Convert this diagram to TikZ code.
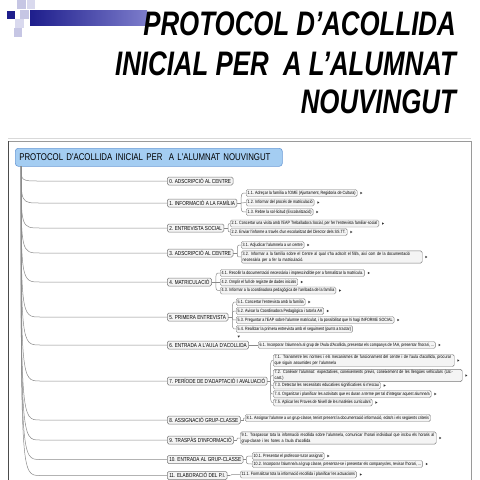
\documentclass[tikz,border=0pt]{standalone}
\usepackage{fontspec}
\setmainfont{Liberation Sans}
\newfontfamily\titlefont[FakeStretch=0.76]{Liberation Sans}
\newfontfamily\mapfont[FakeStretch=0.8]{Liberation Sans}
\usetikzlibrary{positioning}

\definecolor{hdark}{HTML}{1E1E8C}
\definecolor{hlight}{HTML}{7C7CCB}
\definecolor{sqa}{HTML}{C6C6E4}
\definecolor{sqb}{HTML}{D9D9EE}
\definecolor{rootfill}{HTML}{A4CDF2}
\definecolor{rootedge}{HTML}{6A9AD6}
\definecolor{boxedge}{HTML}{7A7A7A}
\definecolor{boxfill}{HTML}{F4F4F4}
\definecolor{linkgray}{HTML}{8A8A8A}
\definecolor{framegray}{HTML}{9A9A9A}

\newcommand{\leafmark}[1]{\fill[black!80] ([shift={(3,-1.2)}]#1.east) -- ++(2,1.2) -- ++(-2,1.2) -- cycle;}

\begin{document}
\begin{tikzpicture}[x=1pt,y=-1pt,
  title/.style={font=\titlefont\bfseries\itshape\fontsize{34}{34}\selectfont, inner sep=0pt, anchor=base east},
  rootbox/.style={draw=rootedge, fill=rootfill, line width=0.6pt, rounded corners=3pt, inner xsep=4pt, inner ysep=0pt, minimum height=18pt, text width=259pt, align=left, anchor=north west, font=\mapfont\fontsize{9.8}{9.8}\selectfont},
  sub/.style={draw=boxedge, fill=boxfill, line width=0.5pt, rounded corners=1.5pt, inner xsep=2pt, inner ysep=0pt, minimum height=8pt, anchor=west, font=\mapfont\fontsize{5.8}{5.8}\selectfont},
  leaf/.style={draw=boxedge, fill=boxfill, line width=0.4pt, rounded corners=1.5pt, inner xsep=1.5pt, inner ysep=1pt, minimum height=7pt, anchor=west, align=left, font=\mapfont\fontsize{4.6}{5.8}\selectfont},
  link/.style={draw=linkgray, line width=0.5pt}
]
\useasboundingbox (0,0) rectangle (480,480);

% header decoration
\shade[left color=hdark, right color=hlight] (30,10) rectangle (147,25);
\fill[sqa] (17,0) rectangle (26,9);
\fill[sqb] (27,0) rectangle (35,9);
\fill[sqa] (20,10) rectangle (29,19);
\fill[sqb] (15,19) rectangle (24,28);
\fill[sqa] (14,28) rectangle (22,37);
\fill[hdark] (7,11) rectangle (15,19);

% title
\node[title] (t1) at (456,35) {PROTOCOL D’ACOLLIDA};
\node[title] (t2) at (456,75) {INICIAL PER\ \ A L’ALUMNAT};
\node[title] (t3) at (456,113) {NOUVINGUT};

% screenshot frame
\draw[black!15] (8,138) -- (471,138);
\draw[framegray] (8,141) -- (471,141) -- (471,482);
\draw[black!70, line width=0.9pt] (8,141) -- (8,482);

% root
\node[rootbox] (root) at (15,148) {PROTOCOL D'ACOLLIDA INICIAL PER\ \ A L'ALUMNAT NOUVINGUT};
\coordinate (rt) at (21,166);
\coordinate (bend) at (40,166);

% main steps
\node[sub] (c0) at (167,181) {0. ADSCRIPCIÓ AL CENTRE};
\node[sub] (c1) at (167,203) {1. INFORMACIÓ A LA FAMÍLIA};
\node[sub] (c2) at (167,228) {2. ENTREVISTA SOCIAL};
\node[sub] (c3) at (167,253) {3. ADSCRIPCIÓ AL CENTRE};
\node[sub] (c4) at (167,282) {4. MATRICULACIÓ};
\node[sub] (c5) at (167,317) {5. PRIMERA ENTREVISTA};
\node[sub] (c6) at (167,345) {6. ENTRADA A L'AULA D'ACOLLIDA};
\node[sub] (c7) at (167,381) {7. PERÍODE DE D'ADAPTACIÓ I AVALUACIÓ};
\node[sub] (c8) at (167,420) {8. ASSIGNACIÓ GRUP-CLASSE};
\node[sub] (c9) at (167,440) {9. TRASPÀS D'INFORMACIÓ};
\node[sub] (c10) at (167,459.5) {10. ENTRADA AL GRUP-CLASSE};
\node[sub] (c11) at (167,475.5) {11. ELABORACIÓ DEL P.I.};

% tasks
\node[leaf] (g11) at (246,193) {1.1. Adreçar la família a l'OME (Ajuntament, Regidoria de Cultura)};
\node[leaf] (g12) at (246,202.5) {1.2. Informar del procés de matriculació};
\node[leaf] (g13) at (246,212) {1.3. Rebre la sol·licitud (Escolarització)};
\node[leaf] (g21) at (230,223.5) {2.1. Concertar una visita amb l'EAP Treballadora Social, per fer l'entrevista familiar-social};
\node[leaf] (g22) at (230,232) {2.2. Enviar l'informe a través d'un escolaritzat del Director dels SS.TT.};
\node[leaf] (g31) at (241,245) {3.1. Adjudicar l'alumne/a a un centre};
\node[leaf, text width=178pt] (g32) at (241,257) {3.2. Informar a la família sobre el Centre al qual s'ha adscrit el fill/a, així com de la documentació necessària per a fer la matriculació.};
\node[leaf] (g41) at (220,273) {4.1. Recollir la documentació necessària i imprescindible per a formalitzar la matrícula.};
\node[leaf] (g42) at (220,282) {4.2. Omplir el full de registre de dades inicials};
\node[leaf] (g43) at (220,290.5) {4.3. Informar a la coordinadora pedagògica de l'arribada de la família};
\node[leaf] (g51) at (236,302) {5.1. Concertar l'entrevista amb la família};
\node[leaf] (g52) at (236,311) {5.2. Avisar la Coordinadora Pedagògica i tutor/a AA};
\node[leaf] (g53) at (236,320) {5.3. Preguntar a l'EAP sobre l'alumne matriculat, i la possibilitat que hi hagi INFORME SOCIAL};
\node[leaf] (g54) at (236,329) {5.4. Realitzar la primera entrevista amb el seguiment (punts a tractar)};
\node[leaf] (g61) at (258,345) {6.1. Incorporar l'alumne/a al grup de l'Aula d'Acollida, presentar els companys de l'AA, presentar l'horari, ...};
\node[leaf, text width=178pt] (g71) at (273,360.5) {7.1. Transmetre les normes i els mecanismes de funcionament del centre i de l'aula d'acollida, procurar que siguin assumides per l'alumne/a};
\node[leaf, text width=186pt] (g72) at (273,375.5) {7.2. Conèixer l'alumnat: expectatives, coneixements previs, coneixement de les llengües vehiculars (cat.-cast.)};
\node[leaf] (g73) at (273,385.5) {7.3. Detectar les necessitats educatives significatives si n'escau};
\node[leaf] (g74) at (273,394) {7.4. Organitzar i planificar les activitats que es duran a terme per tal d'integrar aquest alumne/a};
\node[leaf] (g75) at (273,402.5) {7.5. Aplicar les Proves de Nivell de les matèries curriculars};
\node[leaf] (g81) at (245,418) {8.1. Assignar l'alumne a un grup-classe, tenint present la documentació informació, edat/s i els següents criteris};
\node[leaf, text width=193pt] (g91) at (240,438) {9.1. Traspassar tota la informació recollida sobre l'alumne/a, comunicar l'horari individual que inclou els horaris al grup-classe i les hores a l'aula d'acollida};
\node[leaf] (g101) at (252,456) {10.1. Presentar el professor-tutor assignat};
\node[leaf] (g102) at (252,464) {10.2. Incorporar l'alumne/a al grup classe, presentar-se i presentar els companys/es, revisar l'horari, ...};
\node[leaf] (g111) at (240,474.5) {11.1. Formalitzar tota la informació recollida i planificar les actuacions};

% root to steps
\draw[link] (rt) .. controls (rt |- c0) .. (bend |- c0) -- (c0);
\draw[link] (rt) .. controls (rt |- c1) .. (bend |- c1) -- (c1);
\draw[link] (rt) .. controls (rt |- c2) .. (bend |- c2) -- (c2);
\draw[link] (rt) .. controls (rt |- c3) .. (bend |- c3) -- (c3);
\draw[link] (rt) .. controls (rt |- c4) .. (bend |- c4) -- (c4);
\draw[link] (rt) .. controls (rt |- c5) .. (bend |- c5) -- (c5);
\draw[link] (rt) .. controls (rt |- c6) .. (bend |- c6) -- (c6);
\draw[link] (rt) .. controls (rt |- c7) .. (bend |- c7) -- (c7);
\draw[link] (rt) .. controls (rt |- c8) .. (bend |- c8) -- (c8);
\draw[link] (rt) .. controls (rt |- c9) .. (bend |- c9) -- (c9);
\draw[link] (rt) .. controls (rt |- c10) .. (bend |- c10) -- (c10);
\draw[link] (rt) .. controls (rt |- c11) .. (bend |- c11) -- (c11);

% steps to tasks
\draw[link] (c1.east) -- ++(4,0) coordinate (k1);
\draw[link] (k1) .. controls (k1 |- g11) .. (g11.west);
\draw[link] (k1) -- (g12.west);
\draw[link] (k1) .. controls (k1 |- g13) .. (g13.west);
\draw[link] (c2.east) -- ++(4,0) coordinate (k2);
\draw[link] (k2) .. controls (k2 |- g21) .. (g21.west);
\draw[link] (k2) .. controls (k2 |- g22) .. (g22.west);
\draw[link] (c3.east) -- ++(4,0) coordinate (k3);
\draw[link] (k3) .. controls (k3 |- g31) .. (g31.west);
\draw[link] (k3) .. controls (k3 |- g32) .. (g32.west);
\draw[link] (c4.east) -- ++(4,0) coordinate (k4);
\draw[link] (k4) .. controls (k4 |- g41) .. (g41.west);
\draw[link] (k4) -- (g42.west);
\draw[link] (k4) .. controls (k4 |- g43) .. (g43.west);
\draw[link] (c5.east) -- ++(4,0) coordinate (k5);
\draw[link] (k5) .. controls (k5 |- g51) .. (g51.west);
\draw[link] (k5) .. controls (k5 |- g52) .. (g52.west);
\draw[link] (k5) .. controls (k5 |- g53) .. (g53.west);
\draw[link] (k5) .. controls (k5 |- g54) .. (g54.west);
\draw[link] (c6.east) -- (g61.west);
\draw[link] (c7.east) -- ++(3,0) coordinate (k7);
\draw[link] (k7) .. controls (k7 |- g71) .. (g71.west);
\draw[link] (k7) .. controls (k7 |- g72) .. (g72.west);
\draw[link] (k7) .. controls (k7 |- g73) .. (g73.west);
\draw[link] (k7) .. controls (k7 |- g74) .. (g74.west);
\draw[link] (k7) .. controls (k7 |- g75) .. (g75.west);
\draw[link] (c8.east) -- ++(3,0) coordinate (k8);
\draw[link] (k8) .. controls (k8 |- g81) .. (g81.west);
\draw[link] (c9.east) -- ++(3,0) coordinate (k9);
\draw[link] (k9) .. controls (k9 |- g91) .. (g91.west);
\draw[link] (c10.east) -- ++(3,0) coordinate (k10);
\draw[link] (k10) .. controls (k10 |- g101) .. (g101.west);
\draw[link] (k10) .. controls (k10 |- g102) .. (g102.west);
\draw[link] (c11.east) -- ++(3,0) coordinate (k11);
\draw[link] (k11) .. controls (k11 |- g111) .. (g111.west);

% end marks
\leafmark{g11} \leafmark{g12} \leafmark{g13}
\leafmark{g21} \leafmark{g22}
\leafmark{g31} \leafmark{g32}
\leafmark{g41} \leafmark{g42} \leafmark{g43}
\leafmark{g51} \leafmark{g52} \leafmark{g53}
\fill[black!80] ([shift={(1.5,3)}]g54.south west) -- ++(2.4,0) -- ++(-1.2,2) -- cycle;
\leafmark{g61}
\leafmark{g71} \leafmark{g72} \leafmark{g73} \leafmark{g74} \leafmark{g75}
\leafmark{g91}
\leafmark{g101} \leafmark{g102}
\leafmark{g111}
\end{tikzpicture}
\end{document}
